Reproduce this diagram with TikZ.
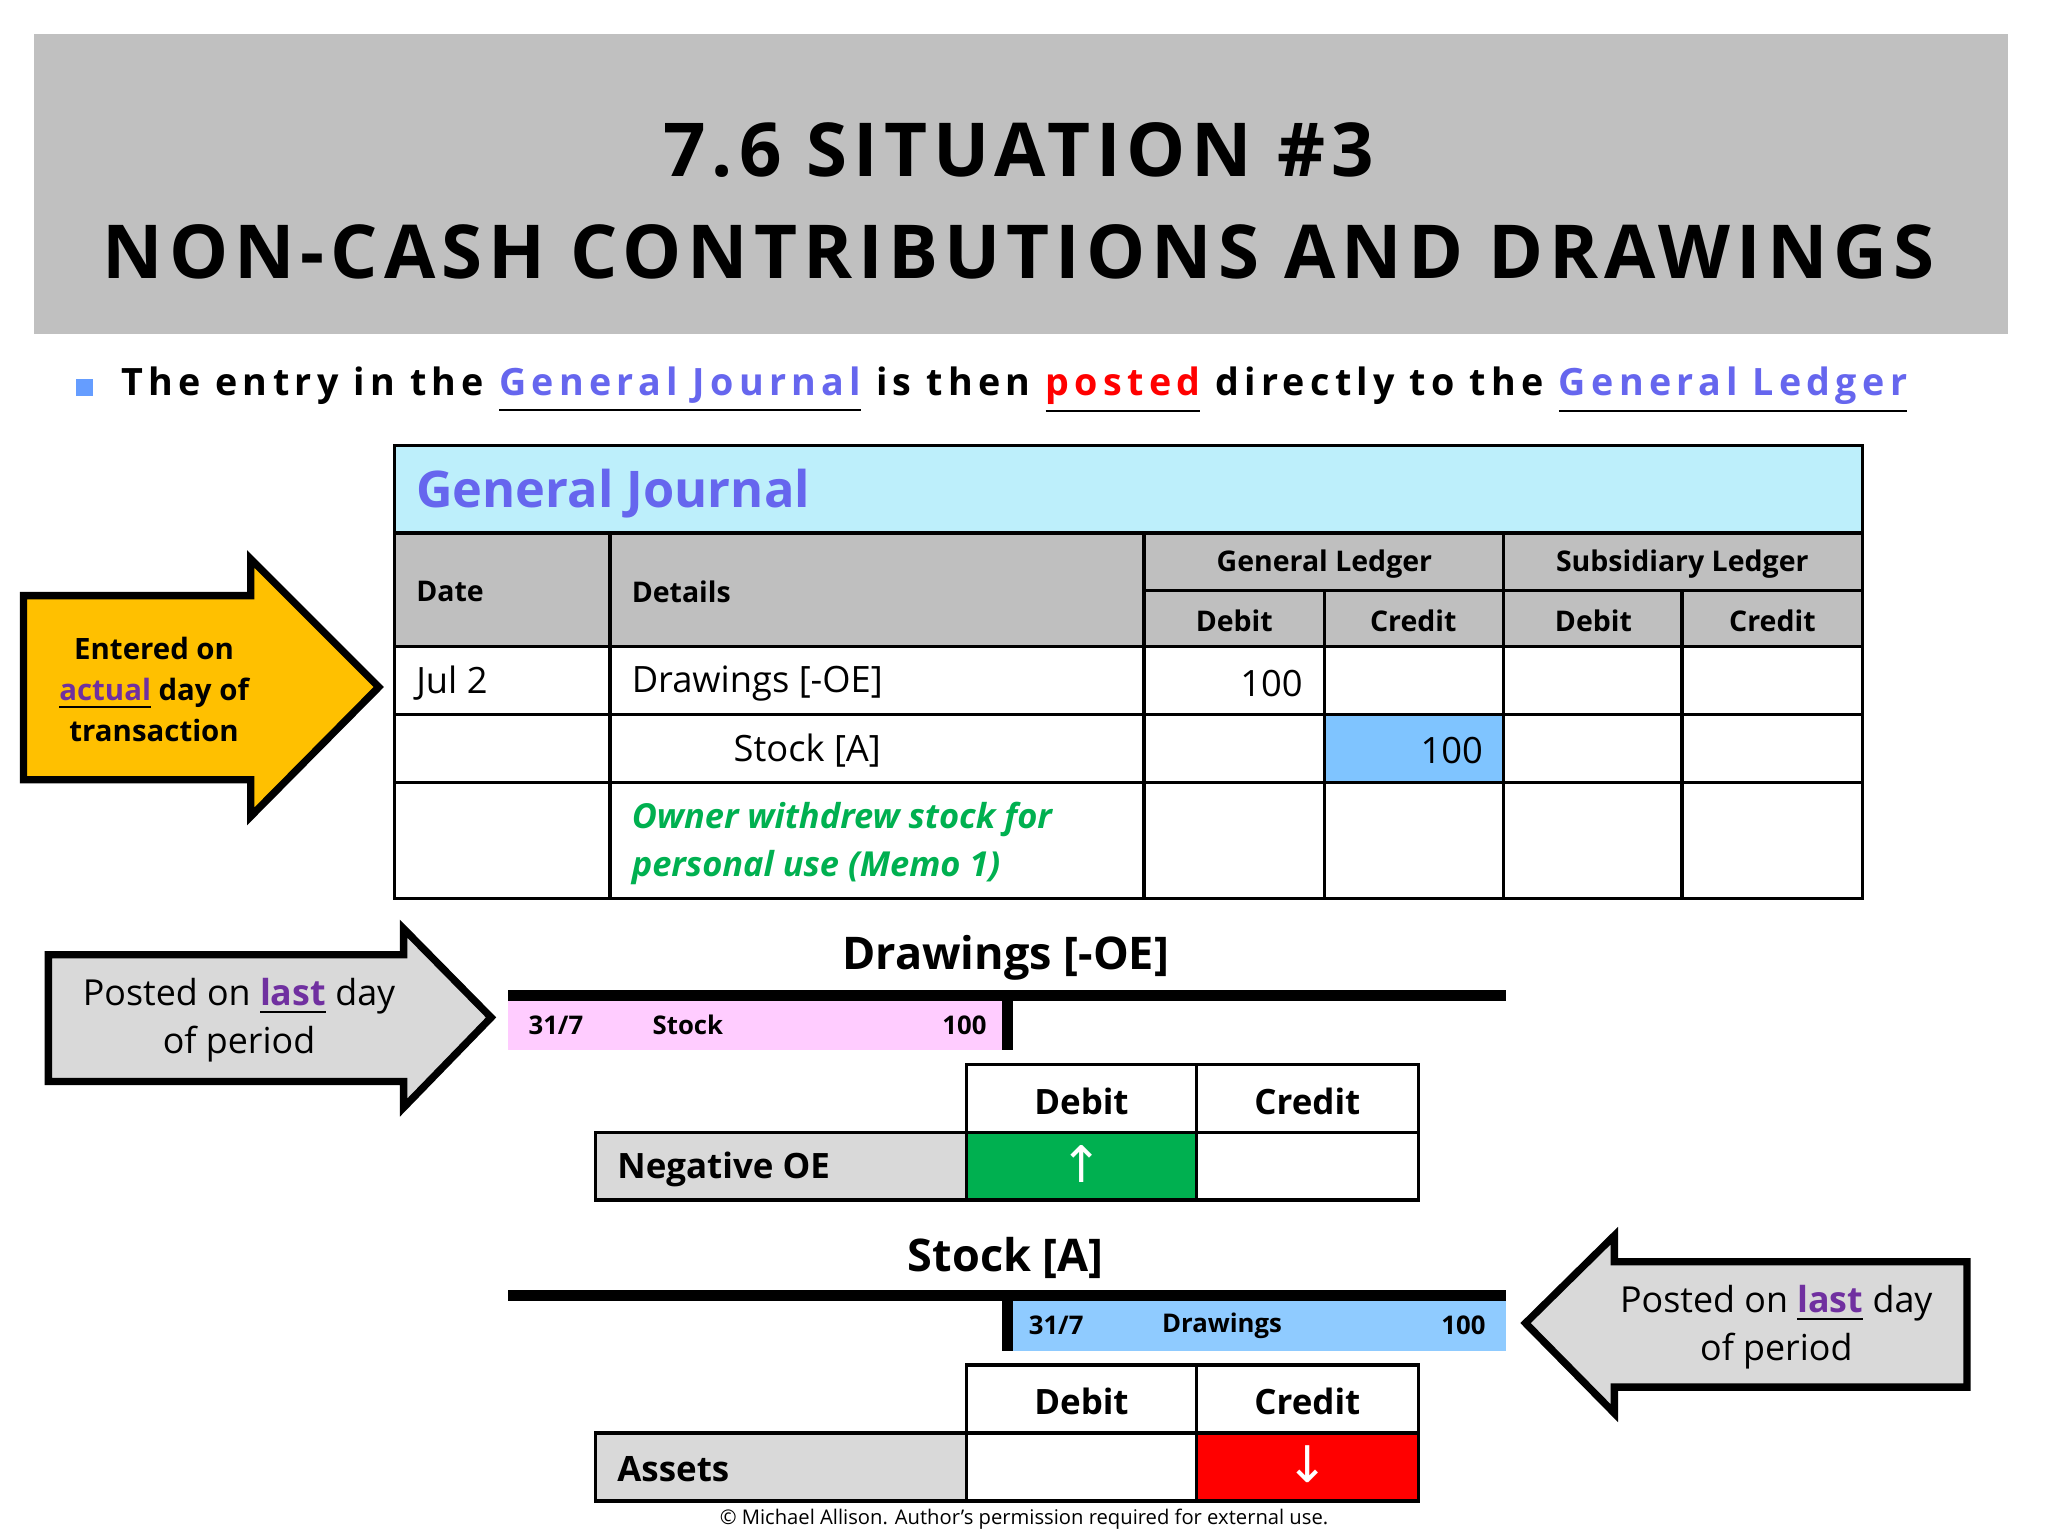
\documentclass[tikz,border=0pt]{standalone}
\usepackage{fontspec}
\setmainfont{Open Sans}
\newfontfamily\symfont{DejaVu Sans}
\usepackage{xcolor}
\usetikzlibrary{positioning}
\definecolor{hdrgray}{HTML}{C0C0C0}
\definecolor{cellgray}{HTML}{BFBFBF}
\definecolor{lightgray}{HTML}{D9D9D9}
\definecolor{jcyan}{HTML}{BDEFFB}
\definecolor{jblue}{HTML}{6666EE}
\definecolor{cblue}{HTML}{7FC4FF}
\definecolor{tblue}{HTML}{8FCBFF}
\definecolor{tpink}{HTML}{FFCCFF}
\definecolor{mgreen}{HTML}{00B050}
\definecolor{apurple}{HTML}{7030A0}
\definecolor{aorange}{HTML}{FFC000}
\newcommand{\ul}[2]{\underline{\textcolor{#1}{#2}}}
\tikzset{
  grid/.style={draw=black, line width=0.8pt},
  txt/.style={inner sep=0pt, font=\fontsize{6.2}{8}\selectfont\bfseries},
  big/.style={inner sep=0pt, font=\fontsize{7.9}{10}\selectfont},
  tbig/.style={inner sep=0pt, font=\fontsize{7.6}{9}\selectfont\bfseries},
  small/.style={inner sep=0pt, font=\fontsize{5.6}{7}\selectfont\bfseries},
  arrowtxt/.style={align=center, font=\fontsize{7.8}{10.4}\selectfont},
  bar/.style={line width=2.4pt},
}
\begin{document}
\begin{tikzpicture}[x=0.01cm, y=-0.01cm]
\useasboundingbox (0,0) rectangle (1568,1176);
% title
\fill[hdrgray] (26,26) rectangle (1537,256);
\node[font=\fontsize{16.2}{20}\selectfont\bfseries\addfontfeature{LetterSpace=8}] (title1) at (780,115) {7.6 SITUATION \#3};
\node[font=\fontsize{16.2}{20}\selectfont\bfseries\addfontfeature{LetterSpace=8}] (title2) at (780,193) {NON-CASH CONTRIBUTIONS AND DRAWINGS};
% bullet
\fill[cblue!80!blue] (58,290) rectangle (71,303);
\node[anchor=west, inner sep=0pt, font=\fontsize{8.2}{10}\selectfont\bfseries\addfontfeature{LetterSpace=14}] (bullet) at (92,299)
  {The entry in the \ul{jblue}{General Journal} is then \ul{red}{posted} directly to the \ul{jblue}{General Ledger}};
% journal
\fill[jcyan] (302,341) rectangle (1426,408);
\fill[cellgray] (302,408) rectangle (1426,495);
\fill[cblue] (1014,547) rectangle (1151,599);
\draw[grid] (302,341) rectangle (1426,688);
\draw[grid] (302,408) -- (1426,408) (876,452) -- (1426,452) (302,495) -- (1426,495)
  (302,547) -- (1426,547) (302,599) -- (1426,599);
\foreach \x in {467,876,1151} \draw[grid] (\x,408) -- (\x,688);
\foreach \x in {1014,1288} \draw[grid] (\x,452) -- (\x,688);
\node[anchor=west, inner sep=0pt, text=jblue, font=\fontsize{11}{13}\selectfont\bfseries] (gj) at (318,378) {General Journal};
\node[txt, anchor=west] (hdate) at (318,453) {Date};
\node[txt, anchor=west] (hdet) at (483,453) {Details};
\node[txt] (hgl) at (1014,432) {General Ledger};
\node[txt] (hsl) at (1288,432) {Subsidiary Ledger};
\node[txt] (hd1) at (945,475) {Debit};
\node[txt] (hc1) at (1082,475) {Credit};
\node[txt] (hd2) at (1220,475) {Debit};
\node[txt] (hc2) at (1357,475) {Credit};
\node[big, anchor=west] (date) at (318,523) {Jul 2};
\node[big, anchor=west] (acc1) at (483,523) {Drawings [-OE]};
\node[big, anchor=east] (amt1) at (998,523) {100};
\node[big, anchor=west] (acc2) at (561,575) {Stock [A]};
\node[big, anchor=east] (amt2) at (1136,575) {100};
\node[anchor=west, inner sep=0pt, text=mgreen, align=left, font=\fontsize{7.5}{10.4}\selectfont\itshape\bfseries] (memo) at (483,646)
  {Owner withdrew stock for\\personal use (Memo 1)};
% yellow arrow
\draw[line width=1.6pt, fill=aorange] (18,456) -- (192,456) -- (192,428) -- (290,526) -- (192,625) -- (192,597) -- (18,597) -- cycle;
\node[arrowtxt, font=\fontsize{6.4}{9}\selectfont\bfseries] (entered) at (118,528)
  {Entered on\\\ul{apurple}{actual} day of\\transaction};
% gray arrow left side
\draw[line width=1.6pt, fill=lightgray] (37,731) -- (309,731) -- (309,711) -- (376,779) -- (309,848) -- (309,828) -- (37,828) -- cycle;
\node[arrowtxt] (post1) at (183,781) {Posted on \ul{apurple}{\bfseries last} day\\of period};
% drawings T account
\node[inner sep=0pt, font=\fontsize{9.8}{12}\selectfont\bfseries] (tdraw) at (770,733) {Drawings [-OE]};
\fill[tpink] (389,766) rectangle (768,804);
\draw[bar] (389,762) -- (1153,762);
\draw[bar] (771,762) -- (771,804);
\node[small, anchor=west] (d1) at (404,785) {31/7};
\node[small, anchor=west] (d2) at (499,785) {Stock};
\node[small, anchor=east] (d3) at (756,785) {100};
% drawings effect table
\fill[lightgray] (456,867) rectangle (740,919);
\fill[mgreen] (740,867) rectangle (916,919);
\draw[grid] (740,815) rectangle (1086,919) (456,867) rectangle (1086,919) (916,815) -- (916,919) (740,867) -- (740,919);
\node[tbig] (ed1) at (828,843) {Debit};
\node[tbig] (ec1) at (1001,843) {Credit};
\node[tbig, anchor=west] (neg) at (472,895) {Negative OE};
\node[text=white, font=\fontsize{11}{12}\selectfont\symfont] (up) at (828,891) {↑};
% stock T account
\node[inner sep=0pt, font=\fontsize{9.8}{12}\selectfont\bfseries] (tstock) at (770,963) {Stock [A]};
\fill[tblue] (771,996) rectangle (1153,1034);
\draw[bar] (389,992) -- (1153,992);
\draw[bar] (771,992) -- (771,1034);
\node[small, anchor=west] (s1) at (787,1015) {31/7};
\node[small, anchor=west] (s2) at (889,1015) {Drawings};
\node[small, anchor=east] (s3) at (1138,1015) {100};
% stock effect table
\fill[lightgray] (456,1097) rectangle (740,1149);
\fill[red] (916,1097) rectangle (1086,1149);
\draw[grid] (740,1045) rectangle (1086,1149) (456,1097) rectangle (1086,1149) (916,1045) -- (916,1149) (740,1097) -- (740,1149);
\node[tbig] (ed2) at (828,1073) {Debit};
\node[tbig] (ec2) at (1001,1073) {Credit};
\node[tbig, anchor=west] (assets) at (472,1125) {Assets};
\node[text=white, font=\fontsize{11}{12}\selectfont\symfont] (down) at (1001,1121) {↓};
% gray arrow right side
\draw[line width=1.6pt, fill=lightgray] (1506,966) -- (1236,966) -- (1236,946) -- (1168,1013) -- (1236,1082) -- (1236,1062) -- (1506,1062) -- cycle;
\node[arrowtxt] (post2) at (1360,1016) {Posted on \ul{apurple}{\bfseries last} day\\of period};
% footer
\node[font=\fontsize{4.4}{6}\selectfont] (foot) at (784,1163) {© Michael Allison. Author’s permission required for external use.};
\end{tikzpicture}
\end{document}
